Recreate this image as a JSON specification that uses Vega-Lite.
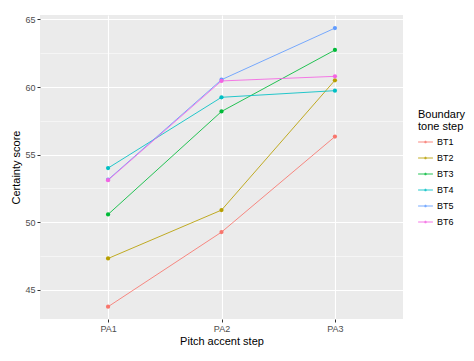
{
  "$schema": "https://vega.github.io/schema/vega-lite/v6.json",
  "width": 363,
  "height": 304,
  "autosize": {"type": "none"},
  "padding": {"left": 40, "top": 15, "right": 71, "bottom": 42},
  "background": "white",
  "config": {
    "view": {"fill": "#EBEBEB", "stroke": null},
    "font": "Liberation Sans",
    "axis": {
      "domain": false,
      "tickColor": "#333333",
      "tickSize": 3,
      "labelColor": "#4D4D4D",
      "labelFontSize": 9,
      "labelPadding": 2,
      "titleFontSize": 11,
      "titleColor": "#000000",
      "titleFontWeight": "normal",
      "gridColor": "#FFFFFF"
    }
  },
  "data": {
    "values": [
      {"pa": "PA1", "bt": "BT1", "score": 43.74},
      {"pa": "PA2", "bt": "BT1", "score": 49.26},
      {"pa": "PA3", "bt": "BT1", "score": 56.33},
      {"pa": "PA1", "bt": "BT2", "score": 47.31},
      {"pa": "PA2", "bt": "BT2", "score": 50.89},
      {"pa": "PA3", "bt": "BT2", "score": 60.5},
      {"pa": "PA1", "bt": "BT3", "score": 50.57},
      {"pa": "PA2", "bt": "BT3", "score": 58.19},
      {"pa": "PA3", "bt": "BT3", "score": 62.74},
      {"pa": "PA1", "bt": "BT4", "score": 54.0},
      {"pa": "PA2", "bt": "BT4", "score": 59.24},
      {"pa": "PA3", "bt": "BT4", "score": 59.73},
      {"pa": "PA1", "bt": "BT5", "score": 53.14},
      {"pa": "PA2", "bt": "BT5", "score": 60.54},
      {"pa": "PA3", "bt": "BT5", "score": 64.36},
      {"pa": "PA1", "bt": "BT6", "score": 53.1},
      {"pa": "PA2", "bt": "BT6", "score": 60.45},
      {"pa": "PA3", "bt": "BT6", "score": 60.79}
    ]
  },
  "encoding": {
    "x": {
      "field": "pa",
      "type": "nominal",
      "title": "Pitch accent step",
      "scale": {"type": "point", "padding": 0.6},
      "axis": {"labelAngle": 0, "grid": true, "gridWidth": 1.1, "titlePadding": 2}
    },
    "y": {
      "field": "score",
      "type": "quantitative",
      "title": "Certainty score",
      "scale": {"domain": [42.83, 65.33], "nice": false, "zero": false},
      "axis": {
        "values": [45, 47.5, 50, 52.5, 55, 57.5, 60, 62.5, 65],
        "labelExpr": "datum.value % 5 === 0 ? datum.label : ''",
        "tickOpacity": {"condition": {"test": "datum.value % 5 === 0", "value": 1}, "value": 0},
        "gridWidth": {"condition": {"test": "datum.value % 5 === 0", "value": 1.1}, "value": 0.5},
        "titlePadding": 3
      }
    },
    "color": {
      "field": "bt",
      "type": "nominal",
      "scale": {"range": ["#F8766D", "#B79F00", "#00BA38", "#00BFC4", "#619CFF", "#F564E3"]},
      "legend": {
        "title": ["Boundary", "tone step"],
        "titleFontSize": 11,
        "titleLineHeight": 11.5,
        "titleFontWeight": "normal",
        "titleColor": "#000000",
        "titlePadding": 3,
        "labelFontSize": 9,
        "labelColor": "#000000",
        "symbolType": "M-1,-0.07H1V0.07H-1Z M0.18,0A0.18,0.18 0 1,1 -0.18,0A0.18,0.18 0 1,1 0.18,0Z",
        "symbolSize": 220,
        "symbolStrokeWidth": 0,
        "rowPadding": 3,
        "orient": "none",
        "legendX": 378,
        "legendY": 94
      }
    }
  },
  "layer": [
    {"mark": {"type": "line", "strokeWidth": 1, "opacity": 0.85}},
    {"mark": {"type": "point", "filled": true, "size": 18, "opacity": 1}}
  ]
}
